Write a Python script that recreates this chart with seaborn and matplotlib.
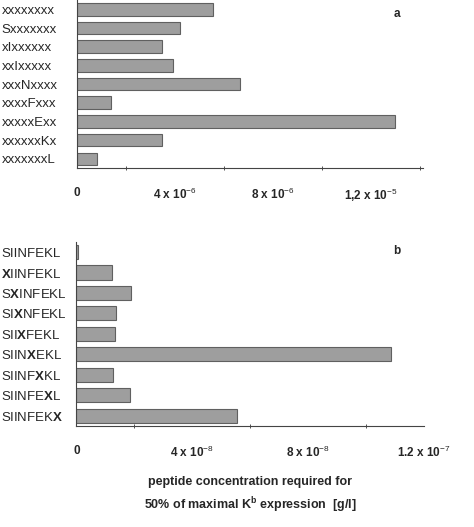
import pandas as pd
import matplotlib
matplotlib.use("Agg")
import matplotlib.pyplot as plt
from matplotlib.ticker import MultipleLocator, FixedLocator, FixedFormatter
import seaborn as sns

# --- data ---
labels_a = ["xxxxxxxx", "Sxxxxxxx", "xIxxxxxx", "xxIxxxxx", "xxxNxxxx",
            "xxxxFxxx", "xxxxxExx", "xxxxxxKx", "xxxxxxxL"]
values_a = [5.56e-6, 4.22e-6, 3.46e-6, 3.91e-6, 6.67e-6,
            1.38e-6, 12.97e-6, 3.48e-6, 0.84e-6]

labels_b = ["SIINFEKL", r"$\mathbf{X}$IINFEKL", r"S$\mathbf{X}$INFEKL",
            r"SI$\mathbf{X}$NFEKL", r"SII$\mathbf{X}$FEKL", r"SIIN$\mathbf{X}$EKL",
            r"SIINF$\mathbf{X}$KL", r"SIINFE$\mathbf{X}$L", r"SIINFEK$\mathbf{X}$"]
values_b = [0.06e-8, 1.24e-8, 1.88e-8, 1.36e-8, 1.32e-8,
            10.86e-8, 1.25e-8, 1.85e-8, 5.53e-8]

ticks_a = [0, 4e-6, 8e-6, 1.2e-5]
ticklabels_a = ["0", r"4 x 10$^{-6}$", r"8 x 10$^{-6}$", r"1,2 x 10$^{-5}$"]
ticks_b = [0, 4e-8, 8e-8, 1.2e-7]
ticklabels_b = ["0", r"4 x 10$^{-8}$", r"8 x 10$^{-8}$", r"1.2 x 10$^{-7}$"]

sns.set_style("white")
plt.rcParams['font.family'] = ['Liberation Sans', 'DejaVu Sans']
plt.rcParams['mathtext.fontset'] = 'custom'
plt.rcParams['mathtext.rm'] = 'Liberation Sans'
plt.rcParams['mathtext.it'] = 'Liberation Sans'
plt.rcParams['mathtext.bf'] = 'Liberation Sans:bold'

df_a = pd.DataFrame({'peptide': labels_a, 'conc': values_a})
df_b = pd.DataFrame({'peptide': labels_b, 'conc': values_b})

fig = plt.figure(figsize=(4.74, 5.27), dpi=100)
ax_a = fig.add_axes([0.162, 0.681, 0.730, 0.319])
ax_b = fig.add_axes([0.161, 0.192, 0.734, 0.349])

bar_col = '#9e9e9e'
edge_col = '#606060'

sns.barplot(data=df_a, x='conc', y='peptide', order=labels_a, orient='h',
            color=bar_col, edgecolor=edge_col, linewidth=0.8, width=0.67,
            saturation=1, ax=ax_a)
sns.barplot(data=df_b, x='conc', y='peptide', order=labels_b, orient='h',
            color=bar_col, edgecolor=edge_col, linewidth=0.8, width=0.69,
            saturation=1, ax=ax_b)

# y labels start ~2 px from the left edge: pad in points
ypad = (77 - 2) * 72 / 100

setups = [(ax_a, 1.41e-5, ticks_a, ticklabels_a, 2e-6),
          (ax_b, 1.2e-7, ticks_b, ticklabels_b, 2e-8)]
for ax, xmax, ticks, tlabels, minor in setups:
    ax.set_xlim(0, xmax)
    ax.set_ylim(8.5, -0.5)
    ax.xaxis.set_major_locator(FixedLocator(ticks))
    ax.xaxis.set_major_formatter(FixedFormatter(tlabels))
    ax.xaxis.set_minor_locator(MultipleLocator(minor))
    ax.tick_params(axis='x', which='major', direction='inout', length=5,
                   width=0.8, color='#333333', labelsize=8.5, pad=11)
    ax.tick_params(axis='x', which='minor', direction='inout', length=3,
                   width=0.6, color='#333333', bottom=True)
    ax.tick_params(axis='y', length=0, labelsize=9.5, pad=ypad)
    for lab in ax.get_yticklabels():
        lab.set_ha('left')
    for lab in ax.get_xticklabels():
        lab.set_fontweight('bold')
    for s in ['top', 'right']:
        ax.spines[s].set_visible(False)
    for s in ['left', 'bottom']:
        ax.spines[s].set_color('#444444')
        ax.spines[s].set_linewidth(0.8)
    ax.set_ylabel('')
    ax.set_xlabel('')

ax_b.set_xlabel('peptide concentration required for\n'
                r'50% of maximal K$^{\mathbf{b}}$ expression  [g/l]',
                fontsize=9, fontweight='bold', labelpad=12, linespacing=1.5)

fig.text(397 / 474, 1 - 14 / 527, 'a', fontsize=8.5, fontweight='bold',
         ha='center', va='center')
fig.text(397 / 474, 1 - 251 / 527, 'b', fontsize=8.5, fontweight='bold',
         ha='center', va='center')

fig.savefig('out.png', dpi=100)
